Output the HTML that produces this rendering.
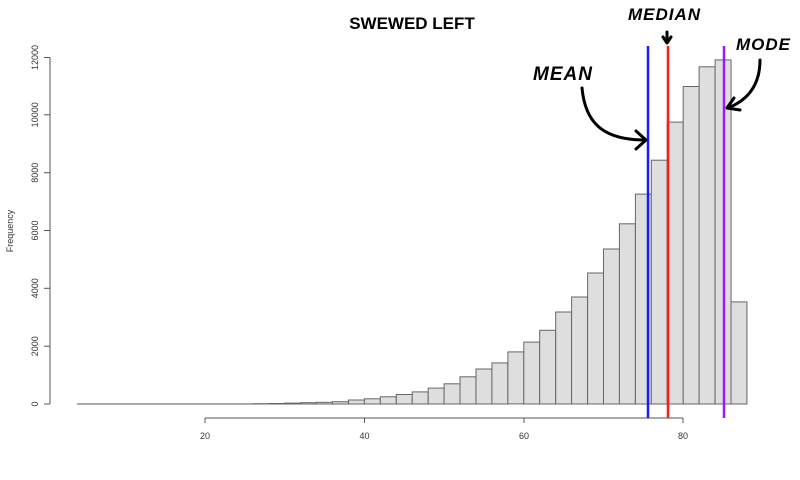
<!DOCTYPE html>
<html><head><meta charset="utf-8"><style>
body{margin:0;background:#fff;width:800px;height:480px;overflow:hidden}
svg{display:block}
text{font-family:"Liberation Sans",sans-serif}
.hw{font-family:"Liberation Sans",sans-serif;font-weight:bold;font-style:italic;fill:#000}
</style></head><body>
<svg id="s" width="800" height="480" viewBox="0 0 800 480" xmlns="http://www.w3.org/2000/svg">
<text x="412" y="29" text-anchor="middle" font-size="17" font-weight="bold" fill="#000">SWEWED LEFT</text>
<g stroke="#555" stroke-width="1" fill="none">
<line x1="50" y1="57.5" x2="50" y2="404"/>
<line x1="44" y1="404" x2="50" y2="404"/><line x1="44" y1="346.2" x2="50" y2="346.2"/>
<line x1="44" y1="288.3" x2="50" y2="288.3"/><line x1="44" y1="230.5" x2="50" y2="230.5"/>
<line x1="44" y1="172.7" x2="50" y2="172.7"/><line x1="44" y1="114.8" x2="50" y2="114.8"/>
<line x1="44" y1="57.5" x2="50" y2="57.5"/>
<line x1="205" y1="418" x2="683" y2="418"/>
<line x1="205" y1="418" x2="205" y2="423"/><line x1="364.5" y1="418" x2="364.5" y2="423"/>
<line x1="524" y1="418" x2="524" y2="423"/><line x1="683" y1="418" x2="683" y2="423"/>
</g>
<g font-size="9" fill="#333" text-anchor="middle">
<text transform="translate(38,404) rotate(-90)">0</text>
<text transform="translate(38,346.2) rotate(-90)">2000</text>
<text transform="translate(38,288.3) rotate(-90)">4000</text>
<text transform="translate(38,230.5) rotate(-90)">6000</text>
<text transform="translate(38,172.7) rotate(-90)">8000</text>
<text transform="translate(38,114.8) rotate(-90)">10000</text>
<text transform="translate(38,57.5) rotate(-90)">12000</text>
<text transform="translate(13,231) rotate(-90)">Frequency</text>
<text x="205" y="439">20</text><text x="364.5" y="439">40</text>
<text x="524" y="439">60</text><text x="683" y="439">80</text>
</g>
<g id="bars" fill="#dedede" stroke="#666" stroke-width="1"></g>
<line x1="648" y1="46" x2="648" y2="418" stroke="#1a1aff" stroke-width="2.5"/>
<line x1="668" y1="46" x2="668" y2="418" stroke="#ff1a1a" stroke-width="2.5"/>
<line x1="724" y1="46" x2="724" y2="418" stroke="#9a1aff" stroke-width="2.5"/>
<text class="hw" x="628" y="20" font-size="17" letter-spacing="1">MEDIAN</text>
<text class="hw" x="533" y="80" font-size="19" letter-spacing="1">MEAN</text>
<text class="hw" x="736" y="50" font-size="17" letter-spacing="1">MODE</text>
<g stroke="#000" stroke-width="3" fill="none" stroke-linecap="round" stroke-linejoin="round">
<path d="M667 32 L667 42 M663 37 L667 43 L671 37"/>
<path d="M582 88 C585 120 600 140 645 140 M636 131 L646 140 L636 149"/>
<path d="M760 60 C760 85 748 100 728 108 M734 98 L727 108 L740 110"/>
</g>
</svg>
<script>
var f={4:3,6:3,8:3,10:3,12:3,14:3,16:3,18:3,20:3,22:3,24:5,26:10,28:18,30:30,32:45,34:60,36:80,38:140,40:180,42:250,44:330,46:420,48:550,50:700,52:940,54:1210,56:1420,58:1800,60:2140,62:2550,64:3180,66:3700,68:4530,70:5360,72:6230,74:7260,76:8430,78:9750,80:10980,82:11660,84:11900,86:3530};
var g=document.getElementById('bars'),s='';
for(var v=4;v<=86;v+=2){var h=f[v]*347/12000;var x=45.6+7.97*v;
s+='<rect x="'+x.toFixed(1)+'" y="'+(404-h).toFixed(1)+'" width="15.94" height="'+h.toFixed(1)+'"/>';}
g.innerHTML=s;
</script>
</body></html>
